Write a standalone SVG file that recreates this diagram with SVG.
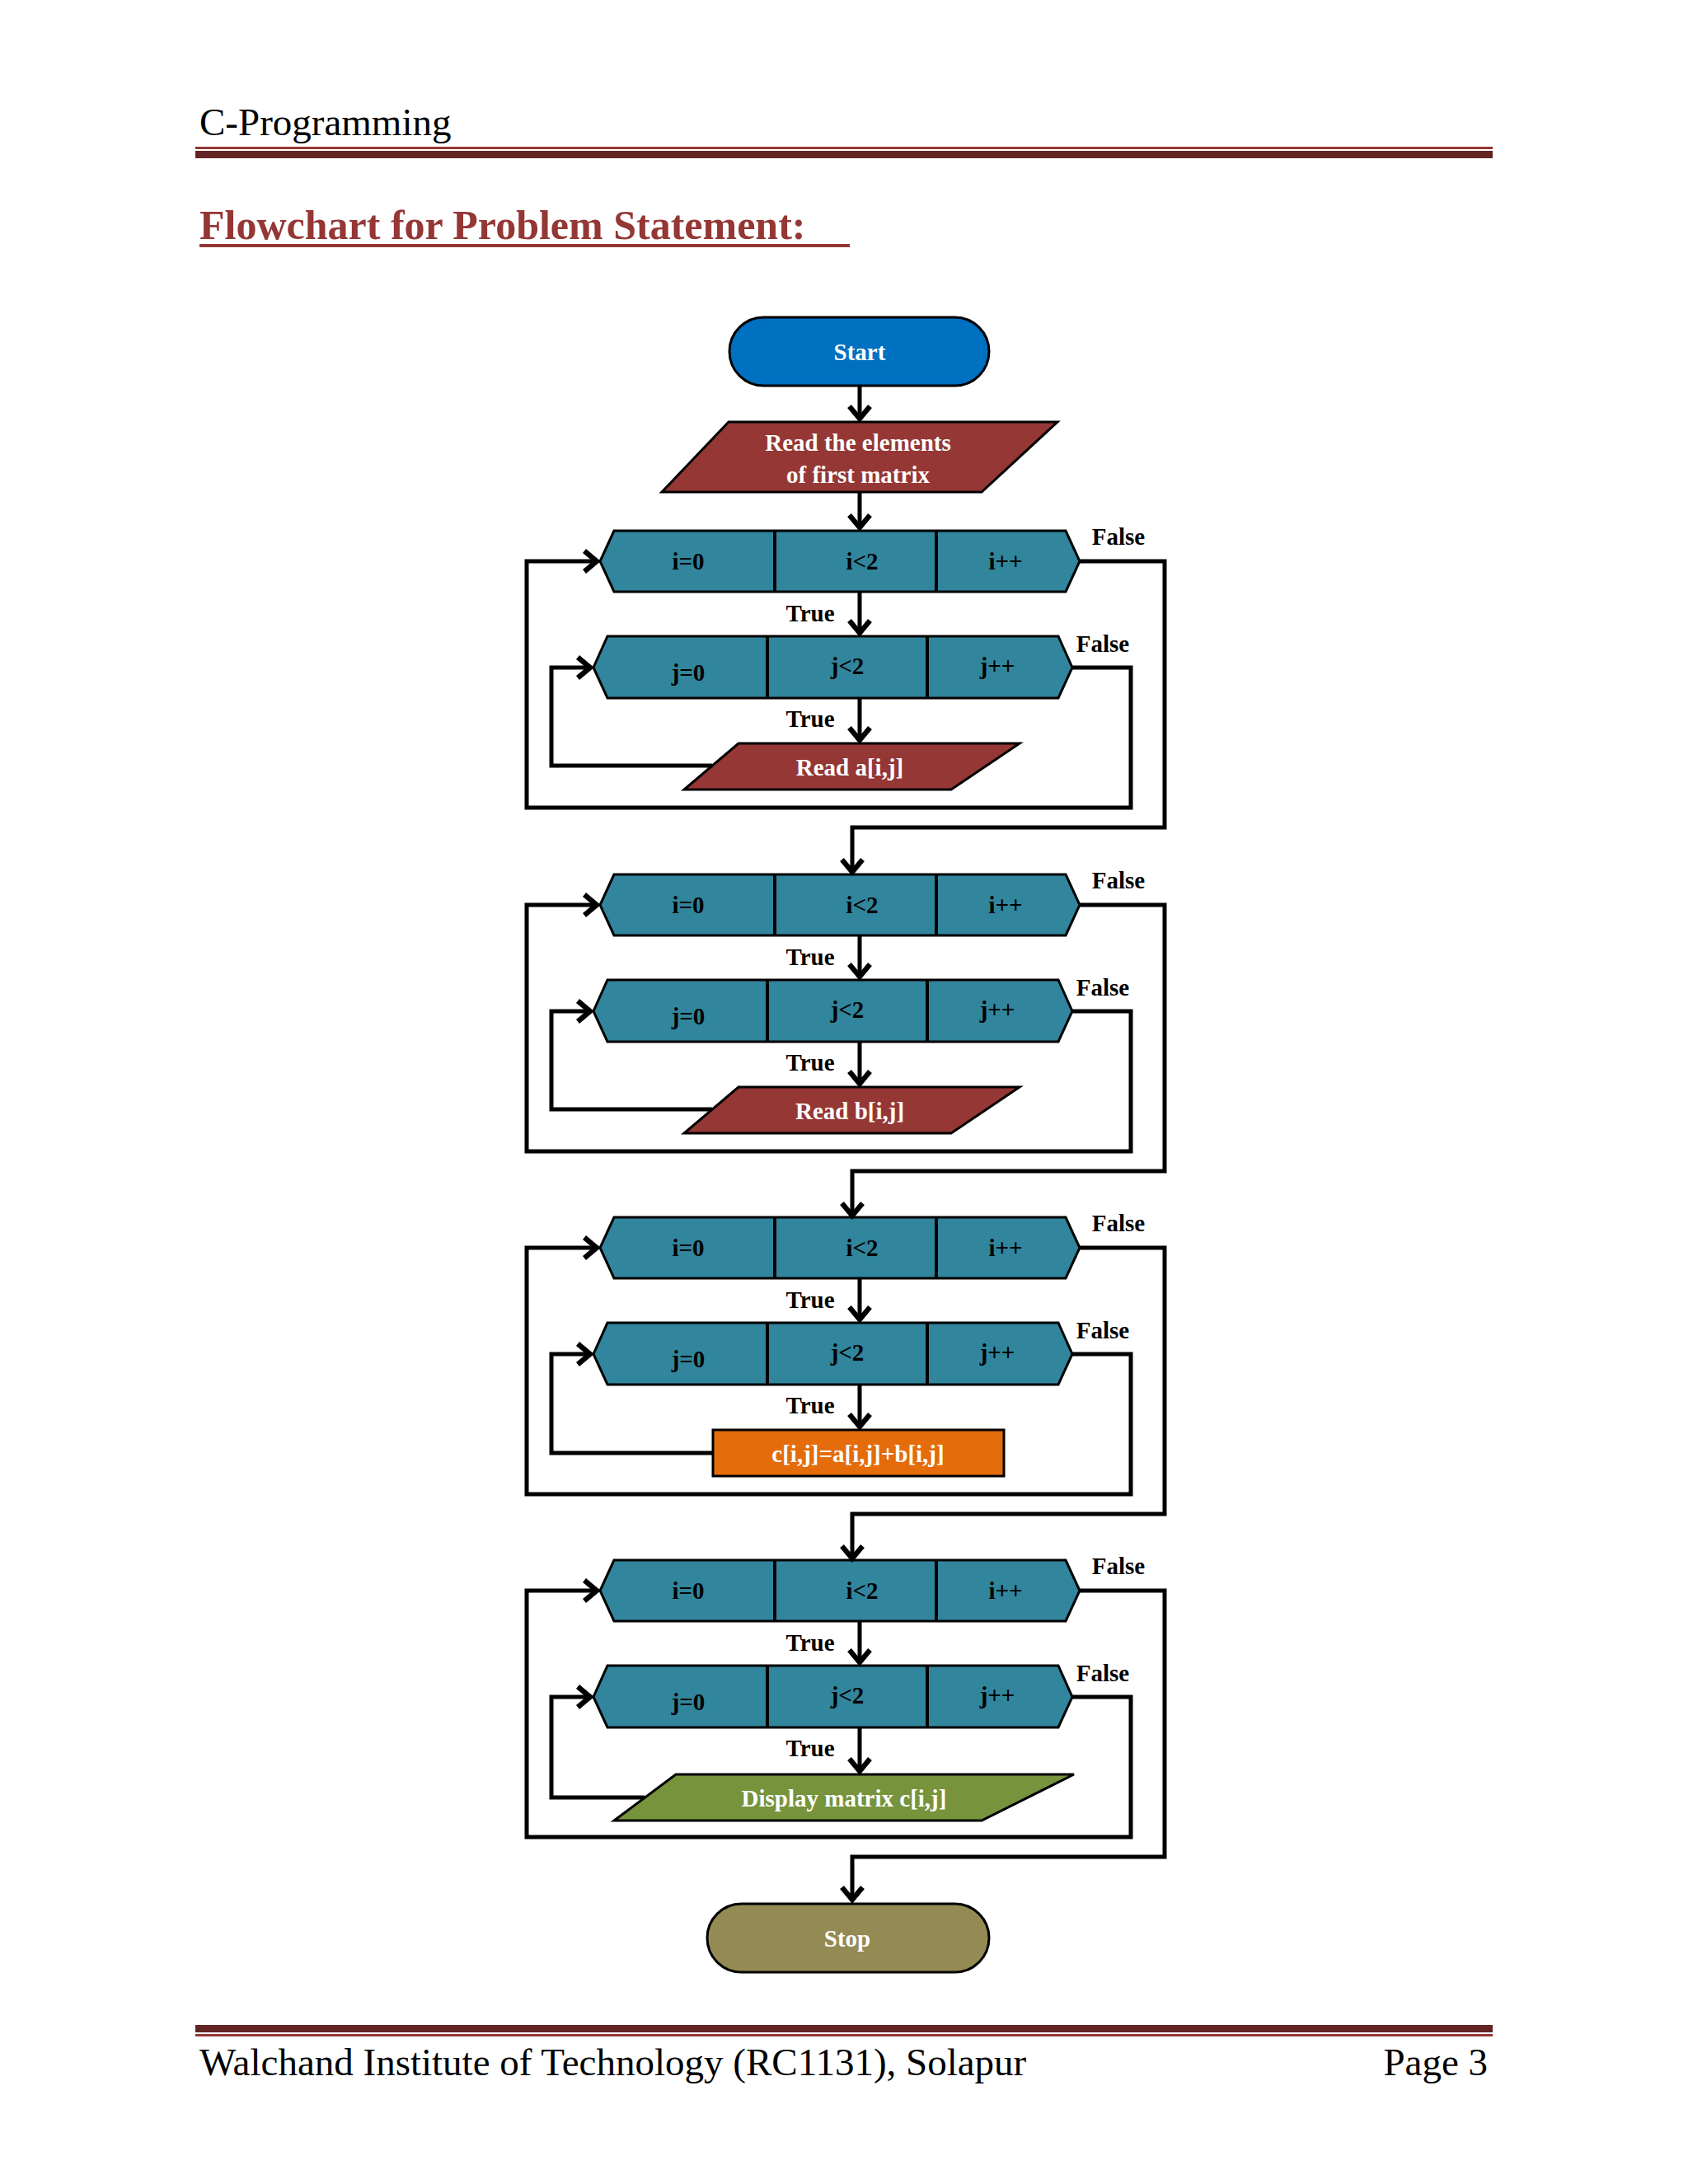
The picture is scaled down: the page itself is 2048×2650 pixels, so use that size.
<svg xmlns="http://www.w3.org/2000/svg" width="2048" height="2650" viewBox="0 0 2048 2650">
<defs>
<style>
.hdr{font-family:"Liberation Serif",serif;font-size:47px;fill:#000}
.ttl{font-family:"Liberation Serif",serif;font-size:50px;font-weight:bold;fill:#953735}
.w{font-family:"Liberation Serif",serif;font-size:29px;font-weight:bold;fill:#fff;text-anchor:middle}
.k{font-family:"Liberation Serif",serif;font-size:29px;font-weight:bold;fill:#000;text-anchor:middle}
.hex{fill:#31859C;stroke:#000;stroke-width:3}
.div{stroke:#000;stroke-width:4}
.rd{fill:#953735;stroke:#000;stroke-width:3}
.ln{fill:none;stroke:#000;stroke-width:5;marker-end:url(#ah)}
</style>
<marker id="ah" markerUnits="userSpaceOnUse" markerWidth="30" markerHeight="30" refX="0" refY="0" viewBox="-14 -12 18 24" orient="auto" overflow="visible"><path d="M-12,-10 L0,0 L-12,10" fill="none" stroke="#000" stroke-width="5"/></marker>
<g id="loops">
<polygon class="hex" points="745,644 1293,644 1310,681 1293,718 745,718 728,681"/>
<line class="div" x1="940" y1="644" x2="940" y2="718"/><line class="div" x1="1136" y1="644" x2="1136" y2="718"/>
<text class="k" x="835" y="691">i=0</text><text class="k" x="1046" y="691">i&lt;2</text><text class="k" x="1220" y="691">i++</text>
<polygon class="hex" points="737,772 1284,772 1301,810 1284,847 737,847 720,810"/>
<line class="div" x1="931" y1="772" x2="931" y2="847"/><line class="div" x1="1125" y1="772" x2="1125" y2="847"/>
<text class="k" x="835" y="826">j=0</text><text class="k" x="1028" y="818">j&lt;2</text><text class="k" x="1210" y="818">j++</text>
<text class="k" x="983" y="754">True</text><text class="k" x="983" y="882">True</text>
<text class="k" x="1357" y="661">False</text><text class="k" x="1338" y="791">False</text>
</g>
</defs>
<rect width="2048" height="2650" fill="#fff"/>
<g id="header">
<text class="hdr" x="242" y="164">C-Programming</text>
<rect x="237" y="178" width="1574" height="3" fill="#953735"/>
<rect x="237" y="183" width="1574" height="9" fill="#632523"/>
<text class="ttl" x="242" y="290">Flowchart for Problem Statement:</text>
<rect x="242" y="296" width="789" height="4" fill="#953735"/>
</g>
<g id="start"><rect x="885" y="385" width="315" height="83" rx="41.5" fill="#0070C0" stroke="#000" stroke-width="3"/><text class="w" x="1043" y="437">Start</text></g>
<g id="read-first"><polygon class="rd" points="884,512 1283,512 1191,597 803,597"/><text class="w" x="1041" y="547">Read the elements</text><text class="w" x="1041" y="586">of first matrix</text></g>
<g id="loop1"><use href="#loops"/></g>
<g id="read-a"><polygon class="rd" points="896,902 1237,902 1154,958 830,958"/><text class="w" x="1031" y="941">Read a[i,j]</text></g>
<g id="loop2" transform="translate(0,417)"><use href="#loops"/></g>
<g id="read-b"><polygon class="rd" points="896,1319 1237,1319 1154,1375 830,1375"/><text class="w" x="1031" y="1358">Read b[i,j]</text></g>
<g id="loop3" transform="translate(0,833)"><use href="#loops"/></g>
<g id="add"><rect x="865" y="1735" width="353" height="56" fill="#E46C0A" stroke="#000" stroke-width="3"/><text class="w" x="1041" y="1774">c[i,j]=a[i,j]+b[i,j]</text></g>
<g id="loop4" transform="translate(0,1249)"><use href="#loops"/></g>
<g id="display"><polygon points="820,2153 1303,2153 1191,2209 745,2209" fill="#77933C" stroke="#000" stroke-width="3"/><text class="w" x="1024" y="2192">Display matrix c[i,j]</text></g>
<g id="stop"><rect x="858" y="2310" width="342" height="83" rx="41.5" fill="#948A54" stroke="#000" stroke-width="3"/><text class="w" x="1028" y="2362">Stop</text></g>
<g id="connectors">
<path class="ln" d="M1043,468 V508"/>
<path class="ln" d="M1043,597 V640"/>
<g>
<path class="ln" d="M1043,718 V768"/><path class="ln" d="M1043,847 V898"/>
<path class="ln" d="M864,929 H669 V810 H716"/>
<path class="ln" d="M1301,810 H1372 V980 H639 V681 H724"/>
<path class="ln" d="M1310,681 H1413 V1004 H1034 V1058"/>
</g>
<g transform="translate(0,417)">
<path class="ln" d="M1043,718 V768"/><path class="ln" d="M1043,847 V898"/>
<path class="ln" d="M864,929 H669 V810 H716"/>
<path class="ln" d="M1301,810 H1372 V980 H639 V681 H724"/>
<path class="ln" d="M1310,681 H1413 V1004 H1034 V1058"/>
</g>
<g transform="translate(0,833)">
<path class="ln" d="M1043,718 V768"/><path class="ln" d="M1043,847 V898"/>
<path class="ln" d="M865,930 H669 V810 H716"/>
<path class="ln" d="M1301,810 H1372 V980 H639 V681 H724"/>
<path class="ln" d="M1310,681 H1413 V1004 H1034 V1058"/>
</g>
<g transform="translate(0,1249)">
<path class="ln" d="M1043,718 V768"/><path class="ln" d="M1043,847 V900"/>
<path class="ln" d="M782,932 H669 V810 H716"/>
<path class="ln" d="M1301,810 H1372 V980 H639 V681 H724"/>
<path class="ln" d="M1310,681 H1413 V1004 H1034 V1056"/>
</g>
</g>
<g id="footer">
<rect x="237" y="2457" width="1574" height="9" fill="#632523"/>
<rect x="237" y="2468" width="1574" height="3" fill="#953735"/>
<text class="hdr" x="242" y="2518">Walchand Institute of Technology (RC1131), Solapur</text>
<text class="hdr" x="1805" y="2518" text-anchor="end">Page 3</text>
</g>
</svg>
